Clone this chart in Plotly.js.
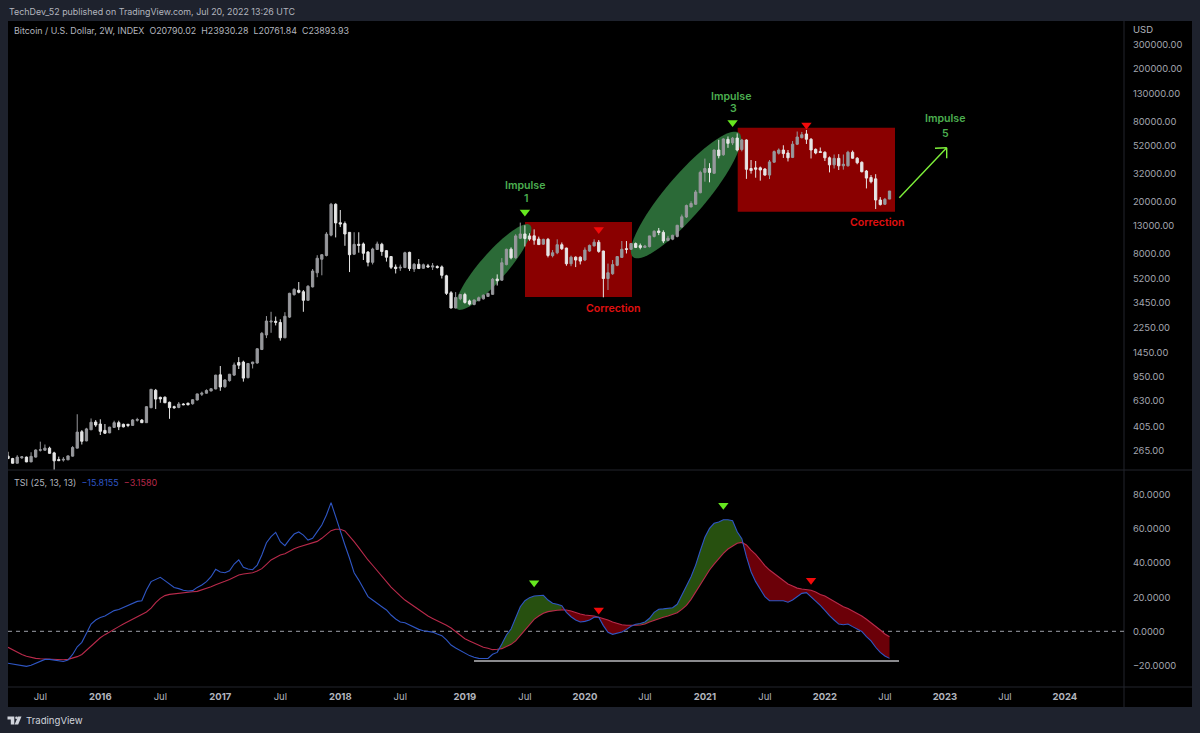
<!DOCTYPE html>
<html>
<head>
<meta charset="utf-8">
<script src="https://cdn.plot.ly/plotly-3.0.1.min.js"></script>
<style>html,body{margin:0;padding:0;background:#1e222d;overflow:hidden}</style>
</head>
<body>
<div id="chart" style="width:1200px;height:733px"></div>
<script>
// 2-week candles, oldest first; the newest bar opens on lastBarDate
const lastBarDate = '2022-07-11';
const open = [242,232,214,235,238,219,238,268,268,278,256,228,226,227,242,278,369,315,382,437,422,378,362,398,432,420,420,412,450,452,432,560,757,670,672,615,570,563,597,605,600,640,707,720,748,775,990,805,895,985,1225,1235,942,1200,1215,1535,1974,2470,2500,2450,1880,2690,3970,4280,4175,3600,4540,5800,7330,7820,11130,19000,13800,13600,11680,8000,9500,9550,8300,6950,8680,9500,8500,7680,6400,6290,6350,8260,6190,6720,6270,6540,6400,6460,6420,5500,4100,3150,3700,3980,3560,3350,3570,3690,3850,3990,5200,5100,6680,8730,7520,10550,11360,10980,11000,10400,9520,10350,7800,8200,9430,8900,6780,7600,7600,7236,8450,9240,9850,8450,5250,5700,6600,7570,8800,8710,9620,9280,9000,9120,10880,11970,11680,10150,10380,10880,12800,15240,18150,19000,23200,33000,35300,32500,48650,44800,58500,55000,59800,49000,57850,35300,35700,35700,35000,31500,39400,46000,48650,46200,42800,53800,60200,64200,58600,49200,47300,46800,42500,37600,42100,37000,37000,46800,42200,39300,33800,30200,29500,20458,19000,20790.02];
const high = [261,235,246,242,240,259,272,311,296,285,261,240,238,245,288,500,380,395,465,452,458,422,402,447,447,425,423,460,470,460,575,775,775,678,680,622,580,618,605,612,650,715,740,770,785,990,1153,920,1005,1225,1345,1265,1215,1240,1570,2080,2740,2950,2715,2590,2930,4100,4430,4940,4303,4680,6190,7860,8000,11720,19450,19300,17204,14100,11750,11700,11700,9800,8450,8950,9950,9750,8600,7750,6700,6680,8350,8350,6850,7360,6800,6760,6870,6600,6580,5600,4220,4150,3990,4100,3640,3650,3840,3980,4100,5300,5640,7480,8800,9000,11300,13830,13200,11500,12300,10850,10450,10600,8600,10350,9800,8950,7800,7700,7700,9000,9450,10350,10232,8500,6800,7236,7700,10050,10050,9700,9800,9620,9400,11000,12100,12600,12100,11000,11200,13300,15900,18900,20000,24300,34000,41900,38700,49000,58000,59500,61500,61000,64900,59000,58500,40900,40200,36500,35500,40900,48200,50000,52800,48650,56800,67000,66500,68800,59800,50000,50800,47500,43500,45000,45300,45000,48000,48200,43000,40000,34400,31500,32000,21500,21200,23930.28];
const low = [232,213,213,231,218,218,236,262,266,253,192,222,220,226,240,277,296,313,380,402,349,355,360,395,380,398,400,410,440,430,430,555,547,610,608,462,550,555,585,582,590,635,686,715,745,770,750,790,880,970,1095,880,930,1105,1200,1520,1870,2050,2330,1790,1870,2650,3900,4063,2950,3570,4500,5370,5550,7700,10900,10700,12800,9250,5870,7900,8210,7236,6480,6700,8600,7780,7040,6190,5730,5990,6280,5990,5880,6200,6200,6320,6085,6230,5250,3950,3130,3130,3600,3400,3300,3300,3550,3650,3820,3950,4650,5050,6600,7330,7400,10400,9150,10100,9430,9400,9400,7570,7570,8000,8600,6550,6500,6400,6700,7100,8350,9150,8200,3790,4303,5600,6500,7500,8100,8600,8900,8710,8900,9000,10700,11130,9700,10000,10200,10700,12700,15000,18000,18800,23000,28100,27800,32300,42100,44000,50500,53000,47500,47500,29500,32300,30100,28600,31200,29400,39000,45000,42400,39900,42300,53000,59500,54000,42000,45200,46200,40200,33000,35300,34400,34600,36500,41900,38000,33000,25000,27300,17500,18600,18800,20761.84];
const close = [232,214,238,239,219,241,269,270,278,254,223,224,229,243,281,367,313,388,435,415,372,360,400,432,402,402,412,453,456,432,570,770,650,652,610,560,560,597,590,590,643,711,720,755,778,985,802,905,1000,1175,1170,935,1205,1235,1555,2030,2515,2510,2460,1880,2730,4063,4355,4135,3600,4590,5980,7460,7930,11330,19000,13750,13500,11350,7930,9490,9330,8130,6950,8750,9550,8380,7590,6380,6240,6380,8210,6240,6720,6240,6660,6420,6530,6350,5550,4060,3150,3780,3980,3470,3370,3620,3760,3930,4060,5180,5060,6900,8710,7520,10980,11360,10500,10400,10200,9450,10350,7830,8200,9430,8800,6780,7600,7230,7100,8600,9320,9850,8400,5250,5800,6680,7680,8710,8700,9620,9000,9000,9200,10980,11900,11650,10050,10550,11100,13200,15300,18600,19250,23500,33000,35300,33000,48650,44100,58900,54600,59700,48650,57850,34800,34100,34900,34400,31500,39600,47300,48650,45700,42500,53800,60900,63400,58600,48650,46200,46600,42500,37600,42100,37000,38000,46800,42200,39000,33400,29900,28100,20458,18900,20700,23893.93];

// TSI (25, 13, 13), one value per candle
const tsi = [-18.7,-19.1,-19.5,-19.9,-20.5,-19.9,-18.7,-17.6,-16.4,-16.4,-16.8,-17.0,-17.6,-16.8,-13.5,-9.0,-6.4,-1.1,4.3,6.7,8.1,9.0,10.6,12.2,12.9,14.1,14.9,16.5,17.6,18.0,24.3,29.2,30.7,31.7,29.8,27.8,25.8,25.1,24.1,23.7,23.9,25.8,27.2,29.2,32.1,36.4,34.8,34.4,35.6,39.5,41.9,37.6,36.6,36.2,38.9,44.8,52.0,55.6,58.1,52.6,50.3,54.0,57.1,58.3,56.5,53.6,54.6,58.5,62.4,68.3,75.5,67.3,58.5,50.7,42.9,34.4,30.1,25.3,20.4,18.4,16.7,14.5,12.6,9.6,7.3,5.5,5.1,3.8,2.4,1.2,0.4,0.0,-0.4,-1.5,-2.5,-5.0,-8.0,-9.7,-11.3,-12.9,-14.2,-15.2,-15.8,-15.9,-15.8,-13.4,-12.3,-7.4,-2.1,1.4,7.7,14.5,18.0,19.8,20.8,21.2,21.2,18.4,16.5,15.9,15.1,11.2,8.6,6.7,5.5,5.9,6.7,8.3,8.3,3.4,-0.5,-1.7,-1.1,-0.4,1.2,3.0,4.2,4.6,5.5,7.7,11.2,13.0,13.2,13.4,13.9,15.9,20.8,26.6,32.1,38.9,47.3,55.2,60.4,63.4,64.2,65.5,65.5,64.9,58.4,54.4,43.8,35.0,29.2,24.9,20.4,18.0,17.8,18.0,18.0,17.1,18.4,20.4,22.3,22.7,20.4,17.8,15.3,12.4,9.2,6.7,4.3,3.9,4.3,2.8,1.2,0.0,-3.1,-5.6,-9.3,-12.3,-14.4,-15.8155];
const signal = [-9.3,-10.9,-12.5,-13.6,-14.6,-15.4,-15.8,-16.0,-16.2,-16.4,-16.6,-16.6,-16.6,-16.4,-15.8,-14.8,-13.5,-11.1,-8.6,-5.8,-3.7,-1.9,-0.5,1.0,2.8,4.3,5.7,7.1,8.6,9.8,11.4,13.7,16.9,19.4,21.0,21.7,22.1,22.3,22.7,22.9,23.3,23.5,24.3,25.1,26.2,27.4,28.6,29.4,30.5,31.9,33.1,33.7,34.1,34.4,35.4,36.8,39.3,41.9,43.4,44.8,45.6,47.2,48.5,49.5,50.3,50.9,51.7,52.8,54.6,57.1,59.1,59.9,59.9,58.9,56.0,52.6,49.1,45.4,41.9,38.8,35.8,32.5,29.2,26.0,23.1,20.8,18.4,16.5,14.3,12.4,10.4,9.0,7.6,6.3,5.1,3.6,2.0,0.0,-2.3,-4.3,-5.6,-6.8,-8.2,-9.3,-9.9,-10.7,-10.5,-10.1,-8.9,-7.6,-5.6,-2.3,1.2,4.5,7.1,9.0,10.6,11.6,12.2,12.4,12.6,12.6,12.0,11.0,10.2,9.6,9.4,9.0,8.3,7.7,6.7,5.5,4.5,3.9,3.6,3.4,3.6,3.8,4.3,5.5,6.5,7.5,8.3,9.0,10.0,11.0,12.9,15.3,18.8,23.3,27.2,31.7,36.0,39.5,42.9,45.8,48.3,50.1,51.7,52.2,50.7,47.7,45.2,41.9,38.6,36.0,34.0,32.1,30.1,27.8,26.6,25.4,24.9,24.5,24.1,23.1,21.7,20.8,19.2,17.6,15.9,14.5,13.4,12.0,10.6,9.0,7.1,5.1,2.8,0.8,-1.5,-3.158];

// axis ticks
const priceTicks = [300000,200000,130000,80000,52000,32000,20000,13000,8000,5200,3450,2250,1450,950,630,405,265];
const priceTickText = ['300000.00','200000.00','130000.00','80000.00','52000.00','32000.00','20000.00','13000.00','8000.00','5200.00','3450.00','2250.00','1450.00','950.00','630.00','405.00','265.00'];
const tsiTicks = [80,60,40,20,0,-20];
const tsiTickText = ['80.0000','60.0000','40.0000','20.0000','0.0000','\u221220.0000'];
const timeTickBarsBack = [184,171,158,145,132,119,106,92,79,66,53,40,27,14,1,-12,-25,-38];
const timeTickText = ['Jul','<b>2016</b>','Jul','<b>2017</b>','Jul','<b>2018</b>','Jul','<b>2019</b>','Jul','<b>2020</b>','Jul','<b>2021</b>','Jul','<b>2022</b>','Jul','<b>2023</b>','Jul','<b>2024</b>'];

// highlighted TSI stretches: [first, last] in bars back from the newest
const greenStretches = [[85,71],[55,32]];
const redStretches = [[71,55],[32,0]];

// triangle flags: bars back and the level they sit at
const priceFlagGreenBack = [79,34], priceFlagGreen = [16610,78300];
const priceFlagRedBack = [63,18], priceFlagRed = [12270,75000];
const tsiFlagGreenBack = [77,36], tsiFlagGreen = [28.5,74];
const tsiFlagRedBack = [63,17], tsiFlagRed = [12.6,30];

const DAY = 86400000;
const lastMs = Date.parse(lastBarDate + 'T00:00:00Z');
const backToDate = b => new Date(lastMs - b*14*DAY).toISOString().slice(0,19).replace('T',' ');
const n = close.length;
const dates = close.map((_,i) => backToDate(n-1-i));
const xRange = [backToDate(191.0), backToDate(-50.81)];

// page geometry
const W=1200,H=733,L=8,R=1124,T=21,B=687;
const px = x => (x-L)/(R-L);
const py = y => (B-y)/(B-T);
const bg='#1e222d', text='#b2b5be', rule='#22252d';

function rect(x0,y0,x1,y1,fill){
  return {type:'rect',xref:'paper',yref:'paper',x0:px(x0),x1:px(x1),y0:py(y0),y1:py(y1),fillcolor:fill,line:{width:0},layer:'below'};
}
function rule_(x0,y0,x1,y1,color,width,layer){
  return {type:'line',xref:'paper',yref:'paper',x0:px(x0),x1:px(x1),y0:py(y0),y1:py(y1),line:{color:color,width:width},layer:layer||'below'};
}
function ellipse(x1,y1,x2,y2,b,fill){
  const cx=(x1+x2)/2, cy=(y1+y2)/2, a=Math.hypot(x2-x1,y2-y1)/2, th=Math.atan2(y2-y1,x2-x1);
  let d='';
  for(let i=0;i<72;i++){
    const t=i/72*2*Math.PI, u=a*Math.cos(t), v=b*Math.sin(t);
    const X=cx+u*Math.cos(th)-v*Math.sin(th), Y=cy+u*Math.sin(th)+v*Math.cos(th);
    d+=(i?'L':'M')+px(X).toFixed(5)+','+py(Y).toFixed(5)+' ';
  }
  return {type:'path',xref:'paper',yref:'paper',path:d+'Z',fillcolor:fill,line:{width:0},layer:'below'};
}
function label(x,y,t,color,size,anchor,weight){
  return {xref:'paper',yref:'paper',x:px(x),y:py(y),text:t,showarrow:false,xanchor:anchor||'left',yanchor:'middle',
    font:{family:'Inter, "Noto Sans", sans-serif',size:size||10,color:color||text,weight:weight||400},borderpad:0};
}

const traces=[];
function band(stretch,fill){
  const a=n-1-stretch[0], b=n-stretch[1];
  traces.push({type:'scatter',mode:'lines',x:dates.slice(a,b),y:signal.slice(a,b),xaxis:'x',yaxis:'y2',line:{width:0},hoverinfo:'skip',showlegend:false});
  traces.push({type:'scatter',mode:'lines',x:dates.slice(a,b),y:tsi.slice(a,b),xaxis:'x',yaxis:'y2',line:{width:0},fill:'tonexty',fillcolor:fill,hoverinfo:'skip',showlegend:false});
}
greenStretches.forEach(s=>band(s,'#27500f'));
redStretches.forEach(s=>band(s,'#6b0008'));

traces.push({type:'candlestick',x:dates,open:open,high:high,low:low,close:close,xaxis:'x',yaxis:'y',whiskerwidth:0,
  increasing:{line:{color:'#97989c',width:1},fillcolor:'#97989c'},
  decreasing:{line:{color:'#e6e6e6',width:1},fillcolor:'#e6e6e6'},hoverinfo:'skip',showlegend:false});
traces.push({type:'scatter',mode:'lines',x:dates,y:signal,xaxis:'x',yaxis:'y2',line:{color:'#b92a4b',width:1.1},hoverinfo:'skip',showlegend:false});
traces.push({type:'scatter',mode:'lines',x:dates,y:tsi,xaxis:'x',yaxis:'y2',line:{color:'#2f56c4',width:1.1},hoverinfo:'skip',showlegend:false});

function flags(back,vals,axis,color){
  traces.push({type:'scatter',mode:'markers',x:back.map(backToDate),y:vals,xaxis:'x',yaxis:axis,
    marker:{symbol:'triangle-down',size:9,color:color,line:{width:0}},hoverinfo:'skip',showlegend:false});
}
flags(priceFlagGreenBack,priceFlagGreen,'y','#66e81f');
flags(priceFlagRedBack,priceFlagRed,'y','#f20a0a');
flags(tsiFlagGreenBack,tsiFlagGreen,'y2','#66e81f');
flags(tsiFlagRedBack,tsiFlagRed,'y2','#f20a0a');

const arrowColor='#7ef03a';
const zeroLine=rule_(8,631.4,1124,631.4,'#7d7f86',1.2);
zeroLine.line.dash='4px,4px';
const shapes=[
  rect(8,21,1192,707,'#000000'),
  rect(525,222,632,297,'#8a0000'),
  rect(737.7,127.7,895,211.7,'#8a0000'),
  ellipse(457,309,530,225,13.5,'#2b6a37'),
  ellipse(633,257,739,133,20,'#2b6a37'),
  rule_(1124,21,1124,707,rule,1),
  rule_(8,470,1192,470,rule,1),
  rule_(8,687,1192,687,rule,1),
  zeroLine,
  rule_(474,661,899,661,'#b9b9bd',1.6),
  // Impulse 5 arrow: shaft and two open barbs
  rule_(899.3,197.7,946.7,147.7,arrowColor,1.4,'above'),
  rule_(946.7,147.7,935,148.3,arrowColor,1.4,'above'),
  rule_(946.7,147.7,946.7,158.3,arrowColor,1.4,'above'),
  // TradingView mark
  {type:'path',xref:'paper',yref:'paper',fillcolor:'#d1d4dc',line:{width:0},layer:'above',
   path:`M${px(7.5)},${py(716.5)} L${px(14.3)},${py(716.5)} L${px(14.3)},${py(724.5)} L${px(10.8)},${py(724.5)} L${px(10.8)},${py(719.5)} L${px(7.5)},${py(719.5)} Z M${px(18)},${py(716.5)} L${px(21.5)},${py(716.5)} L${px(18.2)},${py(724.5)} L${px(14.6)},${py(724.5)} Z`},
  {type:'circle',xref:'paper',yref:'paper',x0:px(15.2),x1:px(17.8),y0:py(716.5),y1:py(719.1),fillcolor:'#d1d4dc',line:{width:0},layer:'above'}
];

const annotations=[
  label(8,11,'TechDev_52 published on TradingView.com, Jul 20, 2022 13:26 UTC',text,8.9),
  label(13,31,'Bitcoin / U.S. Dollar, 2W, INDEX  O20790.02  H23930.28  L20761.84  C23893.93',text,8.9),
  label(13,482,'TSI (25, 13, 13)  <span style="color:#2f56c4">\u221215.8155</span>  <span style="color:#b92a4b">\u22123.1580</span>',text,9),
  label(1132,30,'USD',text,9.5),
  label(25,720.7,'TradingView','#d1d4dc',9.6),
  label(524.5,185,'Impulse','#4caf50',10.6,'center',600),
  label(525.5,199,'1','#4caf50',10.6,'center',600),
  label(613,308,'Correction','#e01010',10.6,'center',600),
  label(731,97,'Impulse','#4caf50',10.6,'center',600),
  label(733,108,'3','#4caf50',10.6,'center',600),
  label(877,222,'Correction','#e01010',10.6,'center',600),
  label(945,118,'Impulse','#4caf50',10.6,'center',600),
  label(945,133,'5','#4caf50',10.6,'center',600)
];

const layout={
  width:W,height:H,autosize:false,showlegend:false,
  paper_bgcolor:bg,plot_bgcolor:'rgba(0,0,0,0)',
  margin:{l:L,r:W-R,t:T,b:H-B,pad:0},
  boxgap:0.3,
  font:{family:'Inter, "Noto Sans", sans-serif',size:10,color:text},
  xaxis:{type:'date',range:xRange,anchor:'y2',domain:[0,1],rangeslider:{visible:false},showgrid:false,zeroline:false,showline:false,
    tickmode:'array',tickvals:timeTickBarsBack.map(backToDate),ticktext:timeTickText,ticks:'outside',ticklen:1,tickcolor:'rgba(0,0,0,0)',tickfont:{size:9.5,color:text}},
  yaxis:{type:'log',domain:[py(470),1],range:[2.2795,5.6576],side:'right',anchor:'x',showgrid:false,zeroline:false,showline:false,
    tickmode:'array',tickvals:priceTicks,ticktext:priceTickText,ticks:'outside',ticklen:6,tickcolor:'rgba(0,0,0,0)',tickfont:{size:9.4,color:'#a3a6af'}},
  yaxis2:{domain:[0,py(470)],range:[-32.6,94.66],side:'right',anchor:'x',showgrid:false,zeroline:false,showline:false,
    tickmode:'array',tickvals:tsiTicks,ticktext:tsiTickText,ticks:'outside',ticklen:6,tickcolor:'rgba(0,0,0,0)',tickfont:{size:9.4,color:'#a3a6af'}},
  shapes:shapes,annotations:annotations,hovermode:false
};
Plotly.newPlot('chart',traces,layout,{staticPlot:true,displayModeBar:false});
</script>
</body>
</html>
